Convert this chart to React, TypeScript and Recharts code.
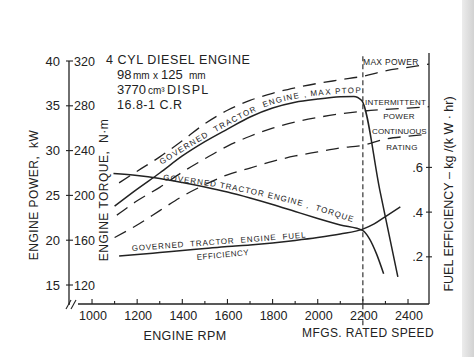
import { ComposedChart, Line, XAxis, YAxis, ReferenceLine } from 'recharts';

const FONT = '"Liberation Sans", Arial, sans-serif';
const INK = '#222';

// engine speed axis
const RPM_DOMAIN = [898, 2493];
const RPM_TICKS = [1000, 1100, 1200, 1300, 1400, 1500, 1600, 1700, 1800, 1900, 2000, 2100, 2200, 2300, 2400];
const RPM_LABELED = [1000, 1200, 1400, 1600, 1800, 2000, 2200, 2400];

// left axis: power (kW) and torque (N·m) share one scale, torque = 8 x power
const POWER_DOMAIN = [12.88, 40];
const POWER_TICKS = [15, 20, 25, 30, 35, 40];
const TORQUE_LABELS = [120, 160, 200, 240, 280, 320];
const TORQUE_DOMAIN = [103.0, 320];

// right axis: fuel efficiency kg/(kW·hr)
const FUEL_DOMAIN = [-0.011, 1.076];
const FUEL_TICKS = [0.2, 0.4, 0.6];

// governed tractor engine, max PTO power (kW)
const PTOP_RPM = [1100, 1200, 1300, 1400, 1500, 1600, 1700, 1800, 1900, 2000, 2100, 2160, 2195, 2275, 2355];
const PTOP_KW = [23.8, 25.7, 27.5, 29.4, 31.0, 32.4, 33.75, 34.75, 35.4, 35.75, 36.0, 36.05, 35.6, 25.6, 15.9];

// max power (dashed, top)
const MAXP_RPM = [1120, 1200, 1300, 1400, 1500, 1600, 1700, 1800, 1900, 2000, 2100, 2200, 2300, 2400, 2493];
const MAXP_KW = [26.4, 27.7, 29.3, 31.1, 33.0, 34.5, 35.6, 36.4, 37.0, 37.5, 37.9, 38.3, 38.9, 39.3, 39.65];

// intermittent power (dashed, middle)
const INTER_RPM = [1110, 1200, 1300, 1400, 1500, 1600, 1700, 1800, 1900, 2000, 2100, 2200, 2300, 2400, 2493];
const INTER_KW = [22.8, 24.4, 25.9, 27.6, 29.1, 30.5, 31.6, 32.5, 33.2, 33.7, 34.1, 34.4, 34.6, 34.75, 34.9];

// continuous rating (dashed, bottom)
const CONT_RPM = [1100, 1200, 1300, 1400, 1500, 1600, 1700, 1800, 1900, 2000, 2100, 2200, 2300, 2400, 2493];
const CONT_KW = [20.3, 21.7, 23.3, 24.9, 26.2, 27.3, 28.05, 28.8, 29.4, 29.85, 30.3, 30.6, 31.3, 31.6, 31.85];

// governed tractor engine torque (N·m)
const TORQUE_RPM = [1095, 1200, 1300, 1400, 1500, 1600, 1700, 1800, 1900, 2000, 2100, 2200, 2230, 2260, 2292];
const TORQUE_NM = [219.5, 217.8, 215.1, 211.5, 207.5, 203, 197.7, 191.9, 185.6, 179.4, 173.6, 168.5, 161, 148, 130];

// governed tractor engine fuel efficiency
const FUEL_RPM = [1120, 1200, 1300, 1400, 1500, 1600, 1700, 1800, 1900, 2000, 2100, 2200, 2250, 2300, 2366];
const FUEL_VAL = [0.204, 0.21, 0.219, 0.228, 0.237, 0.246, 0.253, 0.262, 0.273, 0.286, 0.302, 0.324, 0.347, 0.38, 0.423];

const zip = (xs: number[], ys: number[]) => xs.map((rpm, i) => ({ rpm, v: ys[i] }));

const ptopData = zip(PTOP_RPM, PTOP_KW);
const maxPowerData = zip(MAXP_RPM, MAXP_KW);
const interData = zip(INTER_RPM, INTER_KW);
const contData = zip(CONT_RPM, CONT_KW);
const torqueData = zip(TORQUE_RPM, TORQUE_NM);
const fuelData = zip(FUEL_RPM, FUEL_VAL);

const txt = { fontFamily: FONT, fill: INK } as const;

function RpmTick({ x, y, payload }: any) {
  const major = RPM_LABELED.includes(payload.value);
  return (
    <g>
      <line x1={x} x2={x} y1={y} y2={y - (major ? 5 : 3)} stroke={INK} strokeWidth={1.1} />
      {major && (
        <text x={x + 1} y={y + 16} textAnchor="middle" fontSize={12.5} {...txt}>
          {payload.value}
        </text>
      )}
    </g>
  );
}

function PowerTick({ x, y, payload }: any) {
  const i = POWER_TICKS.indexOf(payload.value);
  return (
    <g>
      <line x1={x - 3} x2={x + 4} y1={y} y2={y} stroke={INK} strokeWidth={1.1} />
      <text x={x - 9} y={y + 4.5} textAnchor="end" fontSize={13} {...txt}>
        {payload.value}
      </text>
      <text x={x + 5} y={y + 4.5} textAnchor="start" fontSize={12.5} {...txt}>
        {TORQUE_LABELS[i]}
      </text>
    </g>
  );
}

function FuelTick({ x, y, payload }: any) {
  return (
    <g>
      <line x1={x - 3} x2={x + 3} y1={y} y2={y} stroke={INK} strokeWidth={1.1} />
      <text x={x - 6} y={y + 4.5} textAnchor="end" fontSize={13} {...txt}>
        {String(payload.value).replace(/^0/, '')}
      </text>
    </g>
  );
}

export default function App() {
  const lineProps = {
    type: 'monotone' as const,
    dataKey: 'v',
    dot: false,
    activeDot: false,
    isAnimationActive: false,
    stroke: INK,
  };
  return (
    <div style={{ position: 'absolute', left: 0, top: 0, width: 474, height: 357, background: '#fff', overflow: 'hidden' }}>
      <ComposedChart width={474} height={357} margin={{ top: 61, right: 0, bottom: 0, left: 0 }}>
        <XAxis
          type="number"
          dataKey="rpm"
          domain={RPM_DOMAIN}
          ticks={RPM_TICKS}
          interval={0}
          allowDataOverflow
          height={53}
          tick={<RpmTick />}
          tickLine={false}
          tickSize={0}
          tickMargin={0}
          axisLine={{ stroke: INK, strokeWidth: 1.3 }}
        />
        <YAxis
          yAxisId="kw"
          type="number"
          domain={POWER_DOMAIN}
          ticks={POWER_TICKS}
          interval={0}
          allowDataOverflow
          width={69}
          tick={<PowerTick />}
          tickLine={false}
          tickSize={0}
          tickMargin={0}
          axisLine={{ stroke: INK, strokeWidth: 1.3 }}
        />
        <YAxis yAxisId="nm" type="number" hide domain={TORQUE_DOMAIN} allowDataOverflow />
        <YAxis
          yAxisId="fuel"
          orientation="right"
          type="number"
          domain={FUEL_DOMAIN}
          ticks={FUEL_TICKS}
          interval={0}
          allowDataOverflow
          width={45}
          tick={<FuelTick />}
          tickLine={false}
          tickSize={0}
          tickMargin={0}
          axisLine={{ stroke: INK, strokeWidth: 1.3 }}
        />
        {/* rated speed marker and max power box edge */}
        <ReferenceLine
          yAxisId="kw"
          segment={[{ x: 2200, y: 10.5 }, { x: 2200, y: 40.7 }]}
          ifOverflow="visible"
          stroke={INK}
          strokeWidth={1.1}
          strokeDasharray="5 3"
        />
        <ReferenceLine
          yAxisId="kw"
          segment={[{ x: 2493, y: 40 }, { x: 2493, y: 40.9 }]}
          ifOverflow="visible"
          stroke={INK}
          strokeWidth={1.3}
        />
        <Line {...lineProps} yAxisId="kw" data={maxPowerData} strokeWidth={1.3} strokeDasharray="13 8" />
        <Line {...lineProps} yAxisId="kw" data={interData} strokeWidth={1.3} strokeDasharray="13 8" />
        <Line {...lineProps} yAxisId="kw" data={contData} strokeWidth={1.3} strokeDasharray="13 8" />
        <Line {...lineProps} yAxisId="kw" data={ptopData} strokeWidth={1.5} />
        <Line {...lineProps} yAxisId="nm" data={torqueData} strokeWidth={1.5} />
        <Line {...lineProps} yAxisId="fuel" data={fuelData} strokeWidth={1.5} />
      </ComposedChart>

      <svg
        width={474}
        height={357}
        style={{ position: 'absolute', left: 0, top: 0, pointerEvents: 'none' }}
      >
        <defs>
          <path id="ptopPath" d="M160,166 Q215,130 265,107 Q300,94 360,93" fill="none" />
          <path id="torquePath" d="M163,180 Q260,190 352,222" fill="none" />
          <path id="fuelPath" d="M131,251 Q215,245 312,237" fill="none" />
        </defs>

        {/* axis break */}
        <rect x={70} y={301} width={8} height={6} fill="#fff" />
        <line x1={66} y1={309} x2={71} y2={300} stroke={INK} strokeWidth={1.1} />
        <line x1={71} y1={309} x2={76} y2={300} stroke={INK} strokeWidth={1.1} />

        {/* engine data block */}
        <text x={106} y={64} fontSize={12.5} letterSpacing={0.6} {...txt}>4 CYL DIESEL ENGINE</text>
        <text x={117} y={79} fontSize={13} {...txt}>98</text>
        <text x={133} y={79} fontSize={10} {...txt}>mm</text>
        <text x={153} y={79} fontSize={10} {...txt}>x</text>
        <text x={161} y={79} fontSize={13} {...txt}>125</text>
        <text x={189} y={79} fontSize={10} {...txt}>mm</text>
        <text x={117} y={94} fontSize={13} {...txt}>3770</text>
        <text x={148} y={94} fontSize={10} {...txt}>cm³</text>
        <text x={167} y={94} fontSize={12.5} letterSpacing={1.3} {...txt}>DISPL</text>
        <text x={117} y={109} fontSize={12.5} letterSpacing={0.5} {...txt}>16.8-1 C.R</text>

        {/* curve labels */}
        <text fontSize={8} letterSpacing={1.25} {...txt}>
          <textPath href="#ptopPath" startOffset={2}>GOVERNED</textPath>
        </text>
        <text fontSize={8} letterSpacing={1.25} {...txt} style={{ whiteSpace: 'pre' }}>
          <textPath href="#ptopPath" startOffset={65}>TRACTOR  ENGINE , MAX PTOP</textPath>
        </text>
        <text fontSize={8} letterSpacing={1} {...txt} style={{ whiteSpace: 'pre' }}>
          <textPath href="#torquePath" startOffset={0}>GOVERNED TRACTOR ENGINE ,  TORQUE</textPath>
        </text>
        <text fontSize={8} letterSpacing={0.85} {...txt} style={{ whiteSpace: 'pre' }}>
          <textPath href="#fuelPath" startOffset={1}>GOVERNED  TRACTOR  ENGINE  FUEL</textPath>
        </text>
        <text
          x={0}
          y={0}
          fontSize={8}
          letterSpacing={0.5}
          transform="translate(197,260) rotate(-5.4)"
          {...txt}
        >
          EFFICIENCY
        </text>

        {/* rating labels right of rated speed */}
        <text x={363} y={65} fontSize={8.5} letterSpacing={0.3} {...txt}>MAX POWER</text>
        <text x={365} y={105} fontSize={8} letterSpacing={0.2} {...txt}>INTERMITTENT</text>
        <text x={399} y={119} fontSize={8} textAnchor="middle" letterSpacing={0.3} {...txt}>POWER</text>
        <text x={372} y={134} fontSize={8} letterSpacing={0.1} {...txt}>CONTINUOUS</text>
        <text x={402} y={150} fontSize={8} textAnchor="middle" letterSpacing={0.3} {...txt}>RATING</text>

        {/* axis titles */}
        <text
          transform="translate(37.5,195) rotate(-90)"
          textAnchor="middle"
          fontSize={12}
          letterSpacing={0.5}
          {...txt}
          style={{ whiteSpace: 'pre' }}
        >
          ENGINE POWER,  kW
        </text>
        <text
          transform="translate(107.5,190) rotate(-90)"
          textAnchor="middle"
          fontSize={12}
          letterSpacing={0.5}
          {...txt}
          style={{ whiteSpace: 'pre' }}
        >
          ENGINE TORQUE,  N·m
        </text>
        <text
          transform="translate(452.5,194) rotate(-90)"
          textAnchor="middle"
          fontSize={12.5}
          {...txt}
          style={{ whiteSpace: 'pre' }}
        >
          FUEL EFFICIENCY – kg /(k W · hr)
        </text>
        <text x={185} y={340} textAnchor="middle" fontSize={12.5} letterSpacing={0.4} {...txt}>ENGINE RPM</text>
        <text x={368} y={337} textAnchor="middle" fontSize={12} letterSpacing={0.4} {...txt}>MFGS. RATED SPEED</text>
      </svg>

      <div
        style={{
          position: 'absolute',
          left: 462,
          top: 0,
          width: 12,
          height: 357,
          background: 'linear-gradient(to right, #ececec, #d2d2d2)',
        }}
      />
    </div>
  );
}
